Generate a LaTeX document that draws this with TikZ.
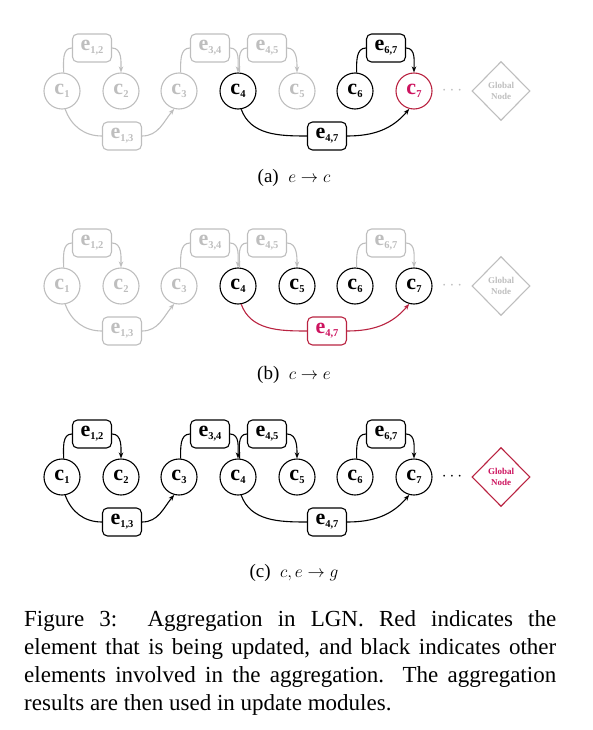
\documentclass[tikz,border=0pt]{standalone}
\usepackage{fontspec}
\setmainfont{Liberation Serif}
\usetikzlibrary{shapes.geometric,arrows.meta}

\definecolor{fadegray}{RGB}{190,190,190}
\definecolor{hotred}{RGB}{185,35,65}
\definecolor{hotpink}{RGB}{205,20,95}

% Fonts
\newcommand{\nodefont}{\bfseries\fontsize{22}{22}\selectfont}
\newcommand{\globalfont}{\bfseries\fontsize{9}{11}\selectfont}
\newcommand{\subcapfont}{\fontsize{19}{22}\selectfont}
\newcommand{\capfont}{\fontsize{23}{28}\selectfont}
\newcommand{\idx}[1]{\raisebox{-3pt}{\fontsize{10.5}{10.5}\selectfont#1}}

% One row of the figure: #1 name, #2 default look, #3 row y, #4 caption y, #5 caption
\newcommand{\drawpanel}[5]{%
  \begin{scope}[yshift=-#3pt]
    % cell nodes
    \foreach \i/\x in {1/62,2/121,3/179,4/238,5/297,6/355,7/414}
      \node[cnode, #2, #1-c\i/.try] (#1c\i) at (\x,0) {c\idx{\i}};
    % edge nodes
    \foreach \e/\l/\x/\y in {12/{1,2}/92/43,13/{1,3}/122/-45,34/{3,4}/210/43,
                             45/{4,5}/267/43,67/{6,7}/386/43,47/{4,7}/327/-45}
      \node[enode, #2, #1-e\e/.try] (#1e\e) at (\x,\y) {e\idx{\l}};
    \node[#2text, #1-dots/.try] (#1dots) at (452,0) {$\cdots$};
    \node[gnode, #2, #1-g/.try] (#1g) at (501,0) {Global\\Node};
    % upper links
    \foreach \a/\e/\b in {1/12/2,3/34/4,4/45/5,6/67/7}{
      \draw[link, #2, #1-e\e/.try] (#1c\a.85) to[out=90,in=180] (#1e\e.west);
      \draw[link, linkarrow, #2, #1-e\e/.try] (#1e\e.east) to[out=0,in=90] (#1c\b.north);
    }
    % lower links
    \foreach \a/\e/\b in {1/13/3,4/47/7}{
      \draw[link, #2, #1-e\e/.try] (#1c\a.-80) to[out=-70,in=180] (#1e\e.west);
      \draw[link, linkarrow, #2, #1-e\e/.try] (#1e\e.east) to[out=0,in=-130] (#1c\b.-105);
    }
  \end{scope}
  \node[font=\subcapfont] (#1cap) at (294,-#4) {#5};
}

\begin{document}
\begin{tikzpicture}[x=1pt,y=1pt]
  \tikzset{
    cnode/.style={circle, line width=1.1pt, minimum size=36pt, inner sep=0pt, font=\nodefont},
    enode/.style={rectangle, rounded corners=5pt, line width=1.1pt, minimum width=39pt,
      minimum height=28pt, inner sep=0pt, font=\nodefont},
    gnode/.style={diamond, line width=1.1pt, minimum width=58pt, minimum height=59pt,
      inner sep=0pt, align=center, font=\globalfont},
    link/.style={line width=1.1pt},
    linkarrow/.style={-{Stealth[length=6pt,width=4.5pt]}},
    faded/.style={draw=fadegray, text=fadegray},
    plain/.style={draw=black, text=black},
    hot/.style={draw=hotred, text=hotpink},
    fadedtext/.style={text=fadegray, font=\bfseries\fontsize{16}{16}\selectfont},
    plaintext/.style={text=black, font=\bfseries\fontsize{16}{16}\selectfont},
    % (a) e -> c
    a-c4/.style=plain, a-c6/.style=plain, a-c7/.style=hot,
    a-e67/.style=plain, a-e47/.style=plain,
    % (b) c -> e
    b-c4/.style=plain, b-c5/.style=plain, b-c6/.style=plain, b-c7/.style=plain,
    b-e47/.style=hot,
    % (c) c, e -> g
    c-g/.style=hot,
  }
  \useasboundingbox (0,0) rectangle (593,-730);

  \drawpanel{a}{faded}{91}{178}{(a)\enspace $e\to c$}
  \drawpanel{b}{faded}{286}{375}{(b)\enspace $c\to e$}
  \drawpanel{c}{plain}{477}{573}{(c)\enspace $c,e\to g$}

  % figure caption
  \node[anchor=north west, inner sep=0pt, text width=532pt, align=justify, font=\capfont]
    (figcap) at (24,-610) {Figure 3:\ \ Aggregation in LGN. Red indicates the\linebreak
    element that is being updated, and black indicates other\linebreak
    elements involved in the aggregation. The aggregation\linebreak
    results are then used in update modules.};
\end{tikzpicture}
\end{document}
